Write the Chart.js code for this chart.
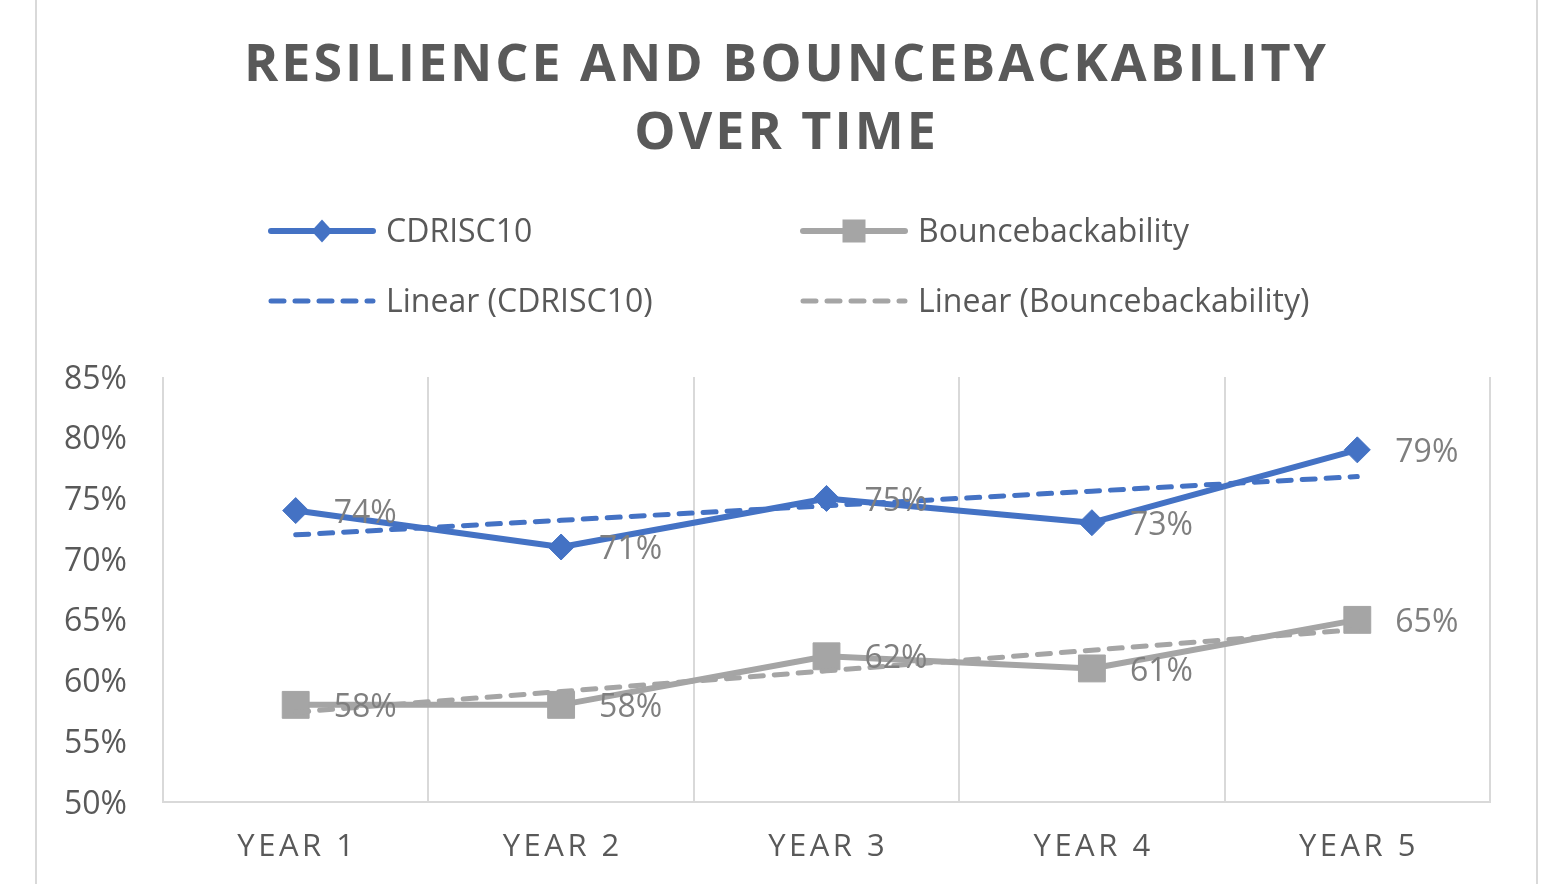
<!DOCTYPE html>
<html>
<head>
<meta charset="utf-8">
<script src="https://cdn.jsdelivr.net/npm/chart.js@4.4.0/dist/chart.umd.min.js"></script>
<style>
html, body { margin: 0; padding: 0; background: #ffffff; width: 1548px; height: 884px; overflow: hidden; }
#frame { position: absolute; left: 35px; top: 0; width: 1499px; height: 884px;
         border-left: 2px solid #d9d9d9; border-right: 2px solid #d9d9d9; }
canvas { display: block; }
</style>
</head>
<body>
<div id="frame"><canvas id="c" width="1499" height="884"></canvas></div>
<script>
// ---- data ----
const titleLines = ['RESILIENCE AND BOUNCEBACKABILITY', 'OVER TIME'];
const categories = ['YEAR 1', 'YEAR 2', 'YEAR 3', 'YEAR 4', 'YEAR 5'];
const seriesNames = ['CDRISC10', 'Bouncebackability', 'Linear (CDRISC10)', 'Linear (Bouncebackability)'];
const cdrisc10 = [74, 71, 75, 73, 79];
const bouncebackability = [58, 58, 62, 61, 65];
const cdrisc10Trend = [72.0, 73.2, 74.4, 75.6, 76.8];
const bouncebackabilityTrend = [57.4, 59.1, 60.8, 62.5, 64.2];
const yTicks = [50, 55, 60, 65, 70, 75, 80, 85];

// ---- styles ----
const BLUE = '#4472C4';
const GREY = '#A5A5A5';
const TEXT = '#595959';
const LABEL = '#7F7F7F';
const GRID = '#D9D9D9';
const FONT = "'Open Sans', 'DejaVu Sans', sans-serif";
const DASH = [13, 11];

const datasets = [
  { label: seriesNames[0], data: cdrisc10, borderColor: BLUE, backgroundColor: BLUE,
    borderWidth: 6, borderCapStyle: 'round', borderJoinStyle: 'round',
    pointStyle: 'rectRot', pointRadius: 13, pointBorderWidth: 1,
    pointBackgroundColor: BLUE, pointBorderColor: BLUE, order: 1, tension: 0,
    _labels: true, _legendMarker: 'diamond' },
  { label: seriesNames[1], data: bouncebackability, borderColor: GREY, backgroundColor: GREY,
    borderWidth: 6, borderCapStyle: 'round', borderJoinStyle: 'round',
    pointStyle: 'rect', pointRadius: 19, pointBorderWidth: 1,
    pointBackgroundColor: GREY, pointBorderColor: GREY, order: 1, tension: 0,
    _labels: true, _legendMarker: 'square' },
  { label: seriesNames[2], data: cdrisc10Trend, borderColor: BLUE, backgroundColor: BLUE,
    borderWidth: 5, borderDash: DASH, borderCapStyle: 'round',
    pointRadius: 0, order: 0, tension: 0 },
  { label: seriesNames[3], data: bouncebackabilityTrend, borderColor: GREY, backgroundColor: GREY,
    borderWidth: 5, borderDash: DASH, borderCapStyle: 'round',
    pointRadius: 0, order: 0, tension: 0 }
];

function wrapDraw(obj, method, fn) {
  if (!obj || obj['__w_' + method]) return;
  const orig = obj[method];
  obj[method] = function () {
    const c = this.ctx;
    c.save();
    fn(c);
    orig.apply(this, arguments);
    c.restore();
    c.letterSpacing = '0px';
  };
  obj['__w_' + method] = true;
}

// letter spacing for title and x-axis labels; small nudges
const spacingPlugin = {
  id: 'spacing',
  beforeDraw(chart) {
    wrapDraw(chart.titleBlock, 'draw', c => { c.letterSpacing = '3px'; c.translate(23, 0); });
    wrapDraw(chart.scales.x, 'drawLabels', c => { c.letterSpacing = '3.5px'; c.translate(1.7, 0); });
    wrapDraw(chart.scales.y, 'drawLabels', c => { c.translate(0, 2.5); });
  }
};

// data labels to the right of points
const dataLabelPlugin = {
  id: 'dataLabels',
  afterDatasetsDraw(chart) {
    const ctx = chart.ctx;
    ctx.save();
    ctx.font = "32px " + FONT;
    ctx.fillStyle = LABEL;
    ctx.textAlign = 'left';
    ctx.textBaseline = 'middle';
    chart.data.datasets.forEach((ds, di) => {
      if (!ds._labels) return;
      const meta = chart.getDatasetMeta(di);
      meta.data.forEach((pt, i) => {
        ctx.fillText(ds.data[i] + '%', pt.x + 38, pt.y + 3);
      });
    });
    ctx.restore();
  }
};

// 2x2 grid legend
const gridLegendPlugin = {
  id: 'gridLegend',
  afterDraw(chart) {
    const ctx = chart.ctx;
    const colX = [231, 763];
    const rowY = [231, 301];
    const sampleW = 108;
    ctx.save();
    chart.data.datasets.forEach((ds, i) => {
      const x0 = colX[i % 2];
      const y = rowY[Math.floor(i / 2)];
      ctx.strokeStyle = ds.borderColor;
      ctx.fillStyle = ds.borderColor;
      ctx.lineWidth = ds.borderWidth;
      ctx.lineCap = 'round';
      ctx.setLineDash(ds.borderDash || []);
      ctx.beginPath();
      ctx.moveTo(x0 + 3, y);
      ctx.lineTo(x0 + sampleW - 3, y);
      ctx.stroke();
      ctx.setLineDash([]);
      const cx = x0 + sampleW / 2;
      if (ds._legendMarker === 'diamond') {
        ctx.beginPath();
        ctx.moveTo(cx - 10.5, y);
        ctx.lineTo(cx, y - 11.5);
        ctx.lineTo(cx + 10.5, y);
        ctx.lineTo(cx, y + 11.5);
        ctx.closePath();
        ctx.fill();
      } else if (ds._legendMarker === 'square') {
        ctx.fillRect(cx - 11.5, y - 11.5, 23, 23);
      }
      ctx.font = "32px " + FONT;
      ctx.fillStyle = TEXT;
      ctx.textAlign = 'left';
      ctx.textBaseline = 'middle';
      ctx.fillText(ds.label, x0 + sampleW + 10, y + 2);
    });
    ctx.restore();
  }
};

new Chart(document.getElementById('c'), {
  type: 'line',
  data: { labels: categories, datasets: datasets },
  plugins: [spacingPlugin, dataLabelPlugin, gridLegendPlugin],
  options: {
    responsive: false,
    animation: false,
    events: [],
    layout: { padding: { left: 0, right: 46, top: 0, bottom: 0 } },
    plugins: {
      legend: { display: false },
      tooltip: { enabled: false },
      title: {
        display: true,
        text: titleLines,
        color: TEXT,
        font: { family: FONT, size: 52, weight: 'bold', lineHeight: '68px' },
        padding: { top: 32, bottom: 209 }
      }
    },
    scales: {
      x: {
        offset: true,
        grid: { display: true, offset: true, color: GRID, lineWidth: 2, drawTicks: false },
        border: { display: true, color: GRID, width: 2 },
        ticks: { color: TEXT, font: { family: FONT, size: 31 }, padding: 27, maxRotation: 0 },
        afterFit(scale) { scale.height = 82; }
      },
      y: {
        min: yTicks[0],
        max: yTicks[yTicks.length - 1],
        grid: { display: false, drawTicks: false },
        border: { display: false },
        afterBuildTicks(scale) { scale.ticks = yTicks.map(v => ({ value: v })); },
        ticks: {
          color: TEXT, font: { family: FONT, size: 32 }, padding: 36,
          callback: (v) => v + '%'
        },
        afterFit(scale) { scale.width = 126; }
      }
    }
  }
});
</script>
</body>
</html>
